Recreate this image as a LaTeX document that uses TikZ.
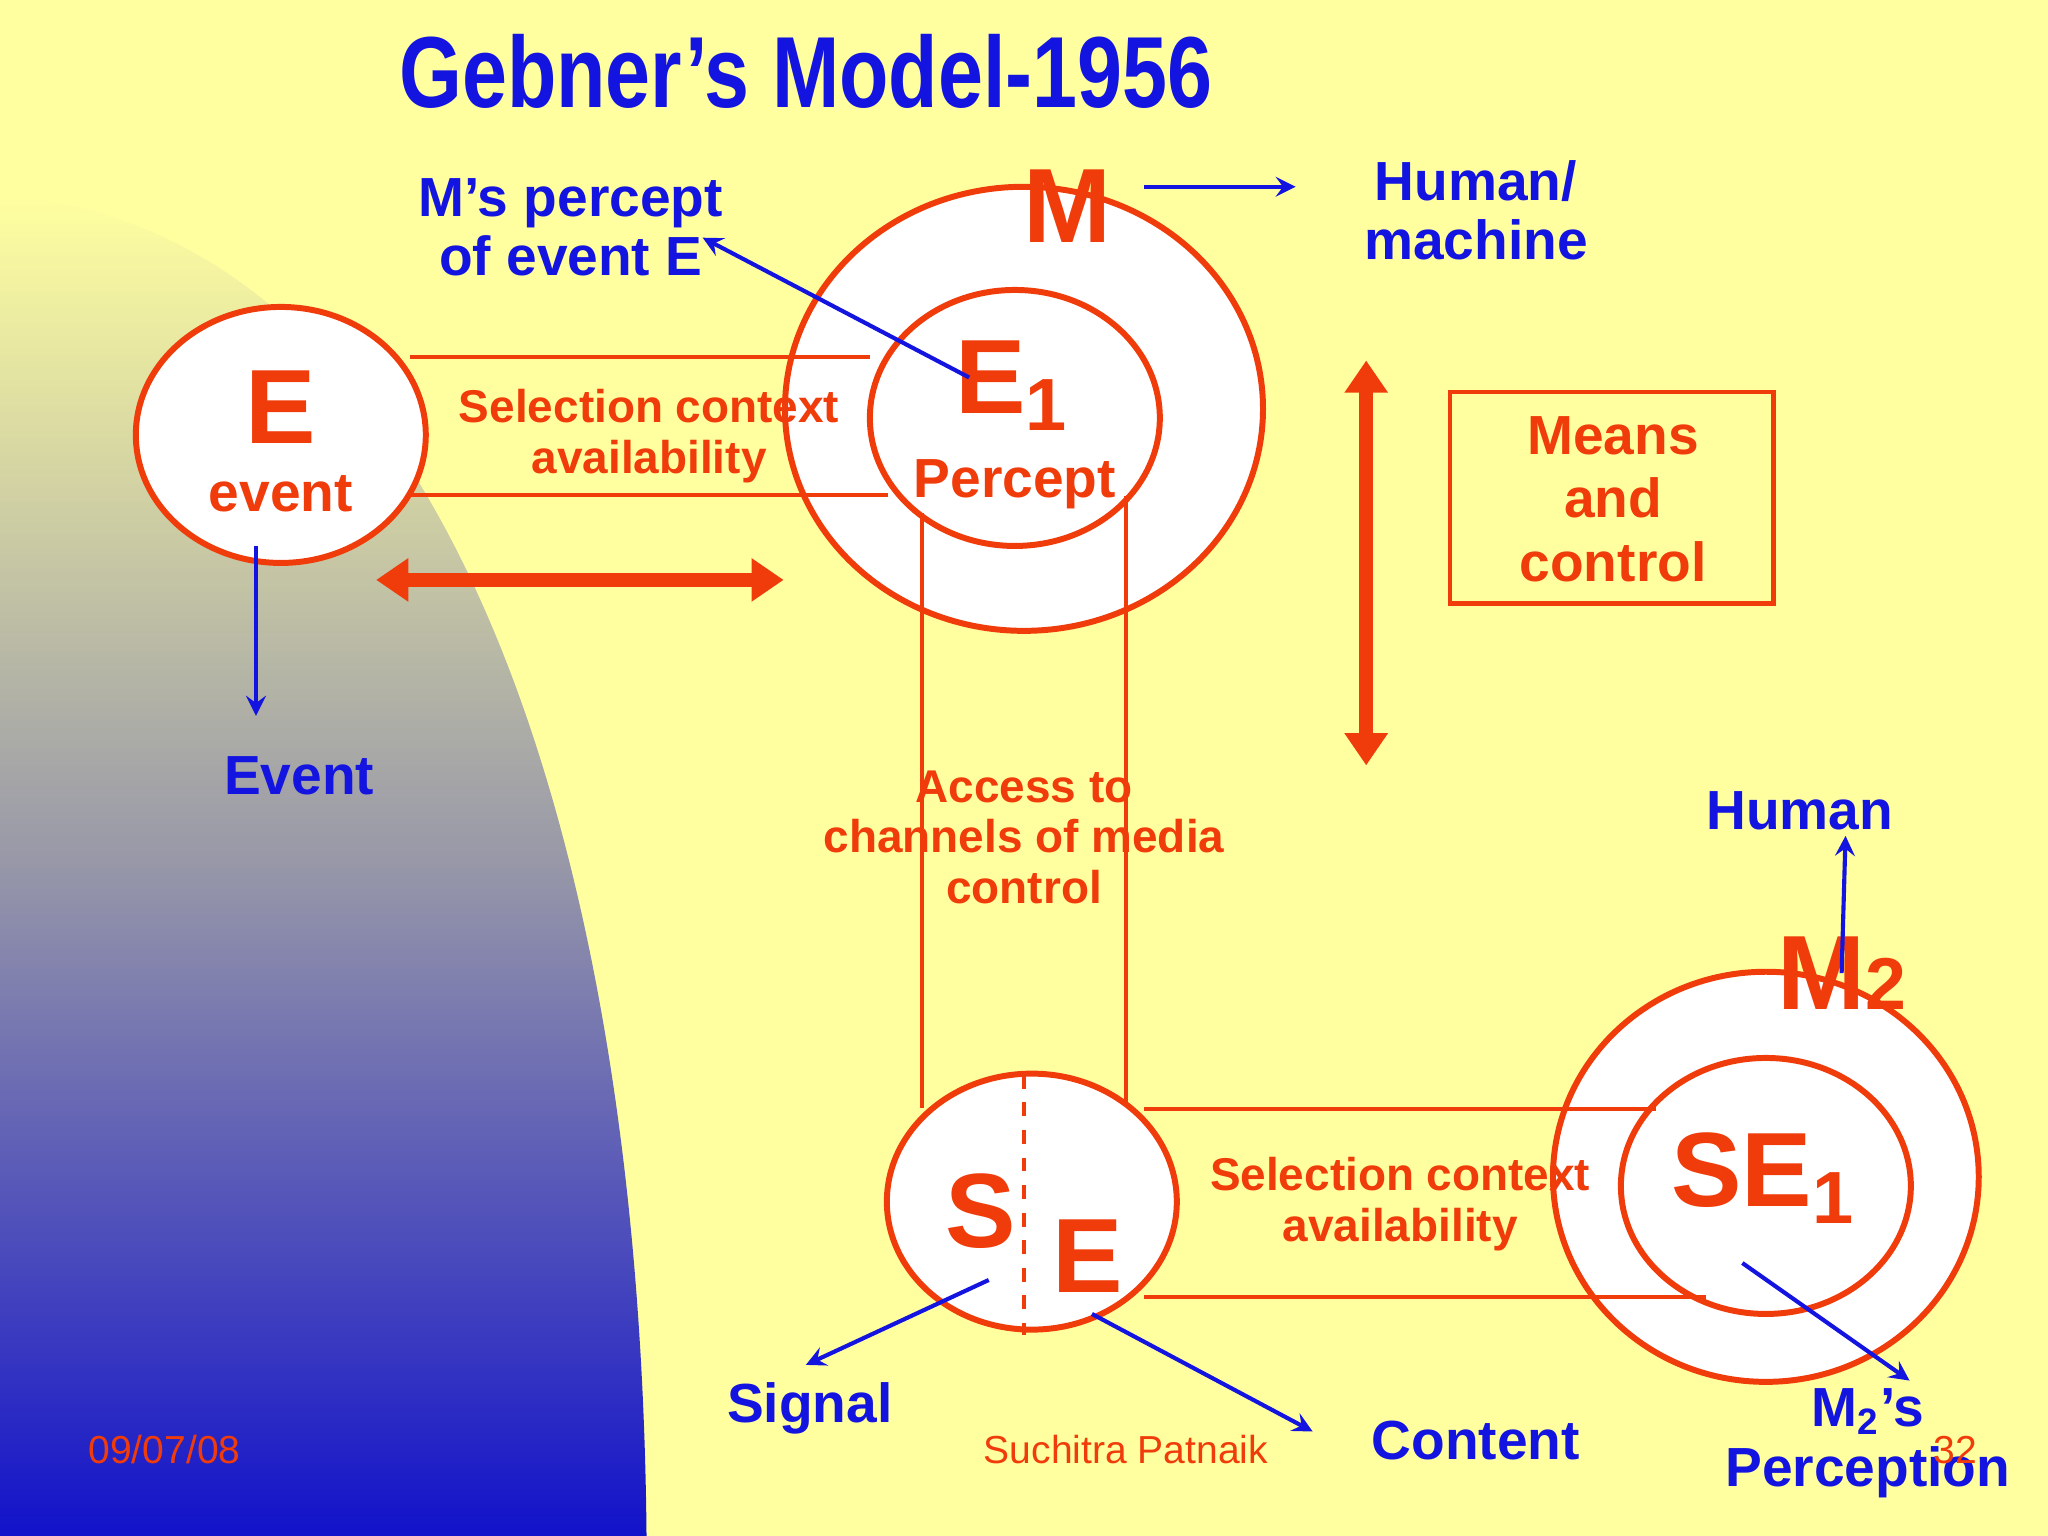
\documentclass[tikz,border=0pt]{standalone}
\usepackage{fontspec}
\usetikzlibrary{arrows.meta}
\setmainfont{Liberation Sans}
\begin{document}
\begin{tikzpicture}[x=0.01cm,y=-0.01cm,
  red1/.style={draw=rd,line width=1.3pt},
  ov/.style={red1,fill=white},
  bt/.style={text=bl,font=\bfseries\fontsize{12}{13}\selectfont},
  rt/.style={text=rd,font=\bfseries\fontsize{10}{11}\selectfont,align=center},
  big/.style={text=rd,font=\bfseries\fontsize{23}{24}\selectfont},
  barr/.style={draw=bl,line width=0.9pt,-stealth},
  darr/.style={draw=rd,line width=3pt,{Triangle[length=7pt,width=9pt]}-{Triangle[length=7pt,width=9pt]}},
  ft/.style={text=rd,font=\fontsize{8.5}{9}\selectfont}]
\definecolor{bg}{RGB}{255,255,160}
\definecolor{rd}{RGB}{240,60,10}
\definecolor{bl}{RGB}{20,20,225}
\useasboundingbox (0,0) rectangle (1568,1176);
\fill[bg] (0,0) rectangle (1568,1176);
\shade[top color=bg,bottom color=bl!90!black,middle color=bl!40!bg!70!gray] (0,150) .. controls (320,170) and (490,600) .. (495,1176) -- (0,1176) -- cycle;
\node[text=bl,font=\bfseries\fontsize{22}{24}\selectfont,xscale=0.8] (title) at (617,55) {Gebner’s Model-1956};
% E
\draw[ov] (215,333) ellipse [x radius=111,y radius=98];
\node[big] (E) at (215,312) {E};
\node[rt,font=\bfseries\fontsize{12}{13}\selectfont] (ev) at (215,378) {event};
% M
\draw[ov] (784,313) ellipse [x radius=183,y radius=170];
\draw[ov] (777,320) ellipse [x radius=111,y radius=98];
\node[big] (M) at (817,158) {M};
\node[big] (E1) at (775,295) {E\textsubscript{1}};
\node[rt,font=\bfseries\fontsize{12}{13}\selectfont] (perc) at (777,371) {Percept};
\draw[red1,line width=0.9pt] (314,273) -- (666,273);
\draw[red1,line width=0.9pt] (314,379) -- (680,379);
\node[rt] (sc1) at (497,334) {Selection context\\availability};
\draw[darr] (288,444) coordinate (d1) -- (600,444) coordinate (d2);
\coordinate (ev1) at (196,418); \coordinate (ev2) at (196,548);
\draw[barr] (ev1) -- (ev2);
\node[bt] (Event) at (229,594) {Event};
\node[bt,align=center] (mp) at (437,174) {M’s percept\\of event E};
\coordinate (a1) at (742,289); \coordinate (a2) at (538,182);
\draw[barr] (a1) -- (a2);
\coordinate (h1) at (876,143); \coordinate (h2) at (992,143);
\draw[barr] (h1) -- (h2);
\node[bt,align=center] (hm) at (1130,161) {Human/\\machine};
\draw[darr] (1046,276) coordinate (v1) -- (1046,586) coordinate (v2);
\draw[red1,line width=1pt] (1110,300) rectangle (1358,462);
\node[rt,font=\bfseries\fontsize{12}{13.8}\selectfont] (mc) at (1235,382) {Means\\and\\control};
\draw[red1,line width=0.9pt] (706,393) -- (706,848);
\draw[red1,line width=0.9pt] (862,380) -- (862,860);
\node[rt] (acc) at (784,641) {Access to\\channels of media\\control};
% M2
\draw[ov] (1352,901) ellipse [x radius=163,y radius=157];
\draw[ov] (1352,908) ellipse [x radius=111,y radius=98];
\node[big] (SE1) at (1350,902) {SE\textsubscript{1}};
\node[big] (M2) at (1410,745) {M\fontsize{16}{17}\selectfont 2};
% S E
\draw[ov] (790,920) ellipse [x radius=111,y radius=98];
\draw[red1,dashed,line width=0.9pt] (784,823) -- (784,1022);
\node[big] (S) at (751,927) {S};
\node[big] (E2) at (833,962) {E};
\draw[red1,line width=0.9pt] (876,849) -- (1268,849);
\draw[red1,line width=0.9pt] (876,993) -- (1306,993);
\node[rt] (sc2) at (1072,922) {Selection context\\availability};
\node[bt] (Human) at (1378,621) {Human};
\coordinate (u1) at (1410,745); \coordinate (u2) at (1413,640);
\draw[barr] (u1) -- (u2);
\coordinate (p1) at (1334,967); \coordinate (p2) at (1462,1057);
\draw[barr] (p1) -- (p2);
\node[bt,align=center] (m2p) at (1430,1105) {M\textsubscript{2}’s\\Perception};
\coordinate (s1) at (757,980); \coordinate (s2) at (617,1045);
\draw[barr] (s1) -- (s2);
\node[bt] (Signal) at (620,1078) {Signal};
\coordinate (c1) at (836,1006); \coordinate (c2) at (1005,1096);
\draw[barr] (c1) -- (c2);
\node[bt] (Content) at (1130,1103) {Content};
\node[ft] (date) at (126,1110) {09/07/08};
\node[ft] (auth) at (862,1110) {Suchitra Patnaik};
\node[ft] (num) at (1497,1110) {32};
\end{tikzpicture}
\end{document}
